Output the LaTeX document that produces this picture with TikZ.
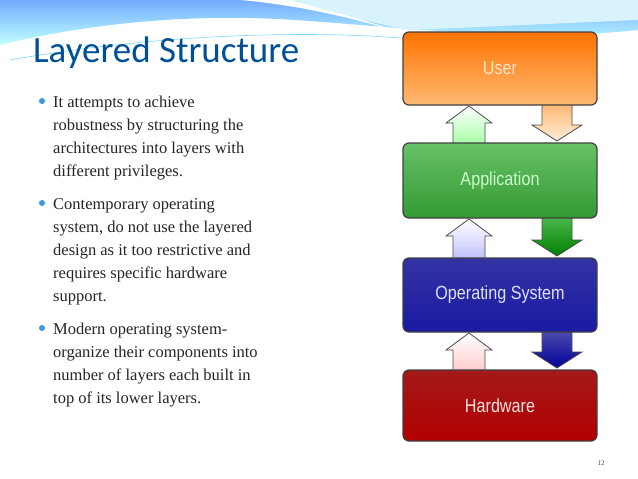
\documentclass[tikz,border=0pt]{standalone}
\usepackage{fontspec}
\setmainfont{Liberation Serif}
\newfontfamily\titlefont{Carlito}
\newfontfamily\boxfont{Liberation Sans}
\colorlet{dA}{orange!55}\colorlet{dAb}{orange!15}
\colorlet{dB}{green!60!black!70!white}\colorlet{dBb}{green!50!black}
\colorlet{dC}{blue!55!black!70!white}\colorlet{dCb}{blue!60!black}
\begin{document}
\begin{tikzpicture}[x=1pt,y=-1pt,
 layer/.style={draw=black!75,line width=1.2pt,rounded corners=6pt},
 lbl/.style={font=\boxfont\fontsize{19}{19}\selectfont,xscale=0.85},
 btxt/.style={anchor=base west,font=\fontsize{16.5}{16.5}\selectfont,inner sep=0pt,text=black!85},
 bul/.style={circle,fill=cyan!70!blue!80,inner sep=0pt,minimum size=6pt},
 arr/.style={draw=black!70,line width=0.8pt}]
\useasboundingbox (0,0) rectangle (638,479);
\fill[white] (0,0) rectangle (638,479);
% background swoosh
\shade[top color=cyan!40!blue!55,bottom color=cyan!25] (0,0) -- (638,0) -- (638,30) .. controls (500,45) and (350,20) .. (250,18) .. controls (150,16) and (60,30) .. (0,45) -- cycle;
\fill[cyan!15] (250,0) .. controls (330,10) and (380,25) .. (410,30) -- (638,20) -- (638,0) -- cycle;
\fill[white] (240,0) .. controls (300,5) and (360,20) .. (400,32) .. controls (360,18) and (310,6) .. (290,0) -- cycle;
\draw[cyan!50,line width=0.6pt] (10,60) .. controls (150,35) and (300,30) .. (400,38);
\node[anchor=base west,text=teal!70!blue!90!black,font=\titlefont\fontsize{37}{37}\selectfont,inner sep=0pt] (title) at (33,62) {Layered Structure};
% bullets
\foreach \i/\y in {1/101,2/203,3/328}{\node[bul] (b\i) at (42,\y) {};}
\foreach \i/\y/\t in {
 1/107/{It attempts to achieve},2/130/{robustness by structuring the},3/153/{architectures into layers with},4/176/{different privileges.},
 5/209/{Contemporary operating},6/232/{system, do not use the layered},7/255/{design as it too restrictive and},8/278/{requires specific hardware},9/301/{support.},
 10/334/{Modern operating system-},11/357/{organize their components into},12/380/{number of layers each built in},13/403/{top of its lower layers.}}
 {\node[btxt] (l\i) at (53,\y) {\t};}
% arrows (drawn before boxes)
\foreach \yt/\yb/\cu/\cd/\ce in {105/143/green!35/dA/dAb,218/258/blue!25/dB/dBb,332/370/red!20/dC/dCb}{
 \shade[arr,top color=white,bottom color=\cu] (469,\yt+1) -- (492,\yt+18) -- (485,\yt+18) -- (485,\yb+1) -- (453,\yb+1) -- (453,\yt+18) -- (446,\yt+18) -- cycle;
 \shade[arr,top color=\cd,bottom color=\ce] (542,\yt-1) -- (572,\yt-1) -- (572,\yb-18) -- (582,\yb-18) -- (557,\yb-2) -- (532,\yb-18) -- (542,\yb-18) -- cycle;
}
% boxes
\node[layer,top color=orange!90!red,bottom color=orange!55,minimum width=194pt,minimum height=73pt] (user) at (500,68.5) {};
\node[layer,top color=green!60!black!60!white,bottom color=green!50!black!80,minimum width=194pt,minimum height=75pt] (app) at (500,180.5) {};
\node[layer,top color=blue!55!black!80!white,bottom color=blue!60!black!90,minimum width=194pt,minimum height=74pt] (os) at (500,295) {};
\node[layer,top color=red!60!black!90,bottom color=red!70!black,minimum width=194pt,minimum height=71pt] (hw) at (500,405.5) {};
\node[lbl,text=orange!20] (tu) at (user) {User};
\node[lbl,text=green!20] (ta) at (app) {Application};
\node[lbl,text=blue!12] (to) at (os) {Operating System};
\node[lbl,text=red!12] (th) at (hw) {Hardware};
\node[font=\fontsize{7}{7}\selectfont,text=black!70] (pg) at (601,463) {12};
\end{tikzpicture}
\end{document}
